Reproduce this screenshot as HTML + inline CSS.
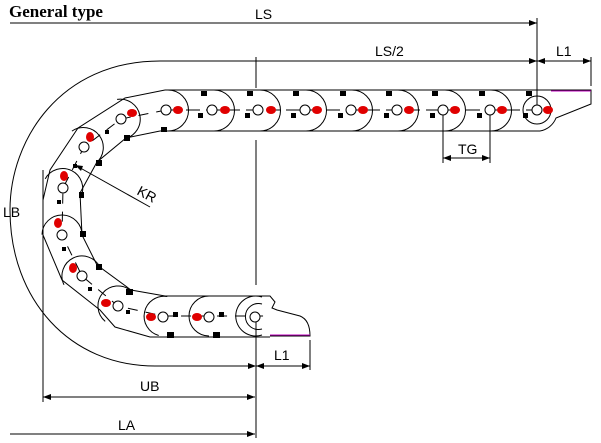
<!DOCTYPE html>
<html><head><meta charset="utf-8"><style>
html,body{margin:0;padding:0;background:#fff;}
svg{display:block;}
text{font-family:"Liberation Sans",sans-serif;font-size:14px;fill:#000;}
</style></head><body>
<svg width="601" height="443" viewBox="0 0 601 443" xmlns="http://www.w3.org/2000/svg">
<rect width="601" height="443" fill="#fff"/>
<text x="9" y="17" style="font-family:'Liberation Serif',serif;font-weight:bold;font-size:17px">General type</text>
<g stroke="#000" stroke-width="1" fill="none">
<line x1="10" y1="23" x2="537" y2="23"/>
<line x1="537" y1="18" x2="537" y2="112"/>
<line x1="257" y1="61" x2="537" y2="61"/>
<line x1="537" y1="61" x2="591" y2="61"/>
<line x1="591" y1="57" x2="591" y2="86"/>
<line x1="256" y1="57" x2="256" y2="88"/>
<line x1="256" y1="140" x2="256" y2="285"/>
<line x1="256" y1="318" x2="256" y2="438"/>
<path d="M257,61 L160,61 C60,61 10,140 10,210 C10,300 70,366 155,366 L255,366"/>
<line x1="256" y1="366" x2="310" y2="366"/>
<line x1="310" y1="340" x2="310" y2="370"/>
<line x1="43" y1="170" x2="43" y2="402"/>
<line x1="43" y1="397" x2="255" y2="397"/>
<line x1="10" y1="434" x2="255" y2="434"/>
<line x1="443" y1="110" x2="443" y2="163"/>
<line x1="490" y1="110" x2="490" y2="163"/>
<line x1="443" y1="158" x2="490" y2="158"/>
<line x1="75" y1="165" x2="150" y2="207"/>
<line x1="165" y1="90" x2="540" y2="90"/>
<line x1="160" y1="131" x2="540" y2="131"/>
<path d="M540,131 A21,21 0 0 0 556,118 L591,104 L591,90 L550,90 L540,90"/>
<line x1="166" y1="110" x2="540" y2="110" stroke-dasharray="14,6"/>
<path d="M168,90 A20,20 0 0 1 168,131"/>
<path d="M214,90 A20,20 0 0 1 214,131"/>
<path d="M260,90 A20,20 0 0 1 260,131"/>
<path d="M306,90 A20,20 0 0 1 306,131"/>
<path d="M352,90 A20,20 0 0 1 352,131"/>
<path d="M398,90 A20,20 0 0 1 398,131"/>
<path d="M445,90 A20,20 0 0 1 445,131"/>
<path d="M491,90 A20,20 0 0 1 491,131"/>
<circle cx="537" cy="110" r="14"/>
<polyline points="165,90 125,98 78,128 50,170 43,200 43,235 62,280 100,310 115,327 150,337 270,337"/>
<polyline points="160,131 126,138 97,162 80,193 82,235 97,265 131,290 165,296 265,296"/>
<path d="M255,296 L270,296 L275,302 L272,308 L277,310 L300,316 Q310,320 310,336 L270,336"/>
<path d="M117.1,99.4 A20,20 0 0 1 124.9,138.6"/>
<path d="M71.9,131.1 A20,20 0 0 1 96.1,162.9"/>
<path d="M45.2,178.9 A20,20 0 0 1 80.8,197.1"/>
<path d="M42,234.6 A20,20 0 0 1 82,235.4"/>
<path d="M64,284.8 A20,20 0 0 1 100,267.2"/>
<path d="M105.2,321.4 A20,20 0 0 1 130.8,290.6"/>
<path d="M158.7,335.5 A20,20 0 0 1 167.3,296.5"/>
<path d="M209,336 A20,20 0 0 1 209,296"/>
<path d="M262,297 A20,20 0 1 0 262,335"/>
<path d="M262,304 A13,13 0 1 0 262,329"/>
<polyline points="166,110 121,119 84,147 63,188 62,235 82,276 118,306 163,316 265,316" stroke-dasharray="10,8"/>
<g fill="#fff">
<circle cx="166" cy="110" r="5"/><circle cx="212" cy="110" r="5"/><circle cx="258" cy="110" r="5"/>
<circle cx="305" cy="110" r="5"/><circle cx="351" cy="110" r="5"/><circle cx="397" cy="110" r="5"/>
<circle cx="443" cy="110" r="5"/><circle cx="490" cy="110" r="5"/><circle cx="537" cy="110" r="5"/>
<circle cx="121" cy="119" r="5"/><circle cx="84" cy="147" r="5"/><circle cx="63" cy="188" r="5"/>
<circle cx="62" cy="235" r="5"/><circle cx="82" cy="276" r="5"/><circle cx="118" cy="306" r="5"/>
<circle cx="163" cy="317" r="5"/><circle cx="209" cy="317" r="5"/><circle cx="255" cy="317" r="5"/>
</g>
</g>
<g fill="#e00000">
<ellipse cx="178" cy="110" rx="5" ry="4"/><ellipse cx="225" cy="110" rx="5" ry="4"/><ellipse cx="271" cy="110" rx="5" ry="4"/>
<ellipse cx="317" cy="110" rx="5" ry="4"/><ellipse cx="363" cy="110" rx="5" ry="4"/><ellipse cx="409" cy="110" rx="5" ry="4"/>
<ellipse cx="455" cy="110" rx="5" ry="4"/><ellipse cx="502" cy="110" rx="5" ry="4"/><ellipse cx="548" cy="110" rx="5" ry="4"/>
<ellipse cx="132" cy="113" rx="5" ry="4"/><ellipse cx="90" cy="137" rx="4" ry="5"/><ellipse cx="64" cy="176" rx="4" ry="5"/>
<ellipse cx="58" cy="223" rx="4" ry="5"/><ellipse cx="73" cy="268" rx="4" ry="5"/><ellipse cx="106" cy="303" rx="5" ry="4"/>
<ellipse cx="151" cy="317" rx="5" ry="4"/><ellipse cx="197" cy="317" rx="5" ry="4"/>
</g>
<g fill="#000">
<rect x="201" y="91" width="6" height="5"/><rect x="247" y="91" width="6" height="5"/><rect x="293" y="91" width="6" height="5"/>
<rect x="340" y="91" width="6" height="5"/><rect x="386" y="91" width="6" height="5"/><rect x="432" y="91" width="6" height="5"/>
<rect x="479" y="91" width="6" height="5"/><rect x="526" y="91" width="6" height="5"/>
<rect x="198" y="113" width="5" height="5"/><rect x="245" y="113" width="5" height="5"/><rect x="291" y="113" width="5" height="5"/>
<rect x="338" y="113" width="5" height="5"/><rect x="384" y="113" width="5" height="5"/><rect x="430" y="113" width="5" height="5"/>
<rect x="477" y="113" width="5" height="5"/><rect x="523" y="113" width="5" height="5"/>
<rect x="161" y="127" width="6" height="5"/><rect x="124" y="135" width="6" height="6"/><rect x="96" y="160" width="6" height="6"/>
<rect x="79" y="192" width="5" height="6"/><rect x="80" y="231" width="6" height="6"/><rect x="96" y="264" width="6" height="6"/>
<rect x="126" y="289" width="7" height="6"/><rect x="167" y="332" width="7" height="6"/><rect x="213" y="332" width="7" height="6"/>
<rect x="173" y="312" width="5" height="5"/><rect x="219" y="312" width="5" height="5"/>
<rect x="105" y="130" width="4" height="4"/><rect x="73" y="164" width="4" height="4"/><rect x="57" y="200" width="4" height="4"/>
<rect x="62" y="247" width="4" height="4"/><rect x="88" y="287" width="4" height="4"/><rect x="126" y="310" width="4" height="4"/>
</g>
<line x1="551" y1="91" x2="591" y2="91" stroke="#c000c0" stroke-width="1"/>
<line x1="270" y1="335" x2="310" y2="335" stroke="#c000c0" stroke-width="1"/>
<g fill="#000">
<polygon points="537,23 529,20 529,26"/>
<polygon points="537,61 529,58 529,64"/><polygon points="537,61 545,58 545,64"/>
<polygon points="591,61 583,58 583,64"/>
<polygon points="256,366 248,363 248,369"/><polygon points="256,366 264,363 264,369"/><polygon points="310,366 302,363 302,369"/>
<polygon points="43,397 51,394 51,400"/><polygon points="255,397 247,394 247,400"/>
<polygon points="255,434 247,431 247,437"/>
<polygon points="443,158 451,155 451,161"/><polygon points="490,158 482,155 482,161"/>
<polygon points="75,165 83,166 81,171"/>
</g>
<text x="255" y="19">LS</text>
<text x="375" y="56">LS/2</text>
<text x="556" y="56">L1</text>
<text x="458" y="154">TG</text>
<text x="274" y="360">L1</text>
<text x="140" y="391">UB</text>
<text x="118" y="430">LA</text>
<text x="3" y="217">LB</text>
<text x="0" y="0" transform="translate(136,194) rotate(28)">KR</text>
</svg>
</body></html>
